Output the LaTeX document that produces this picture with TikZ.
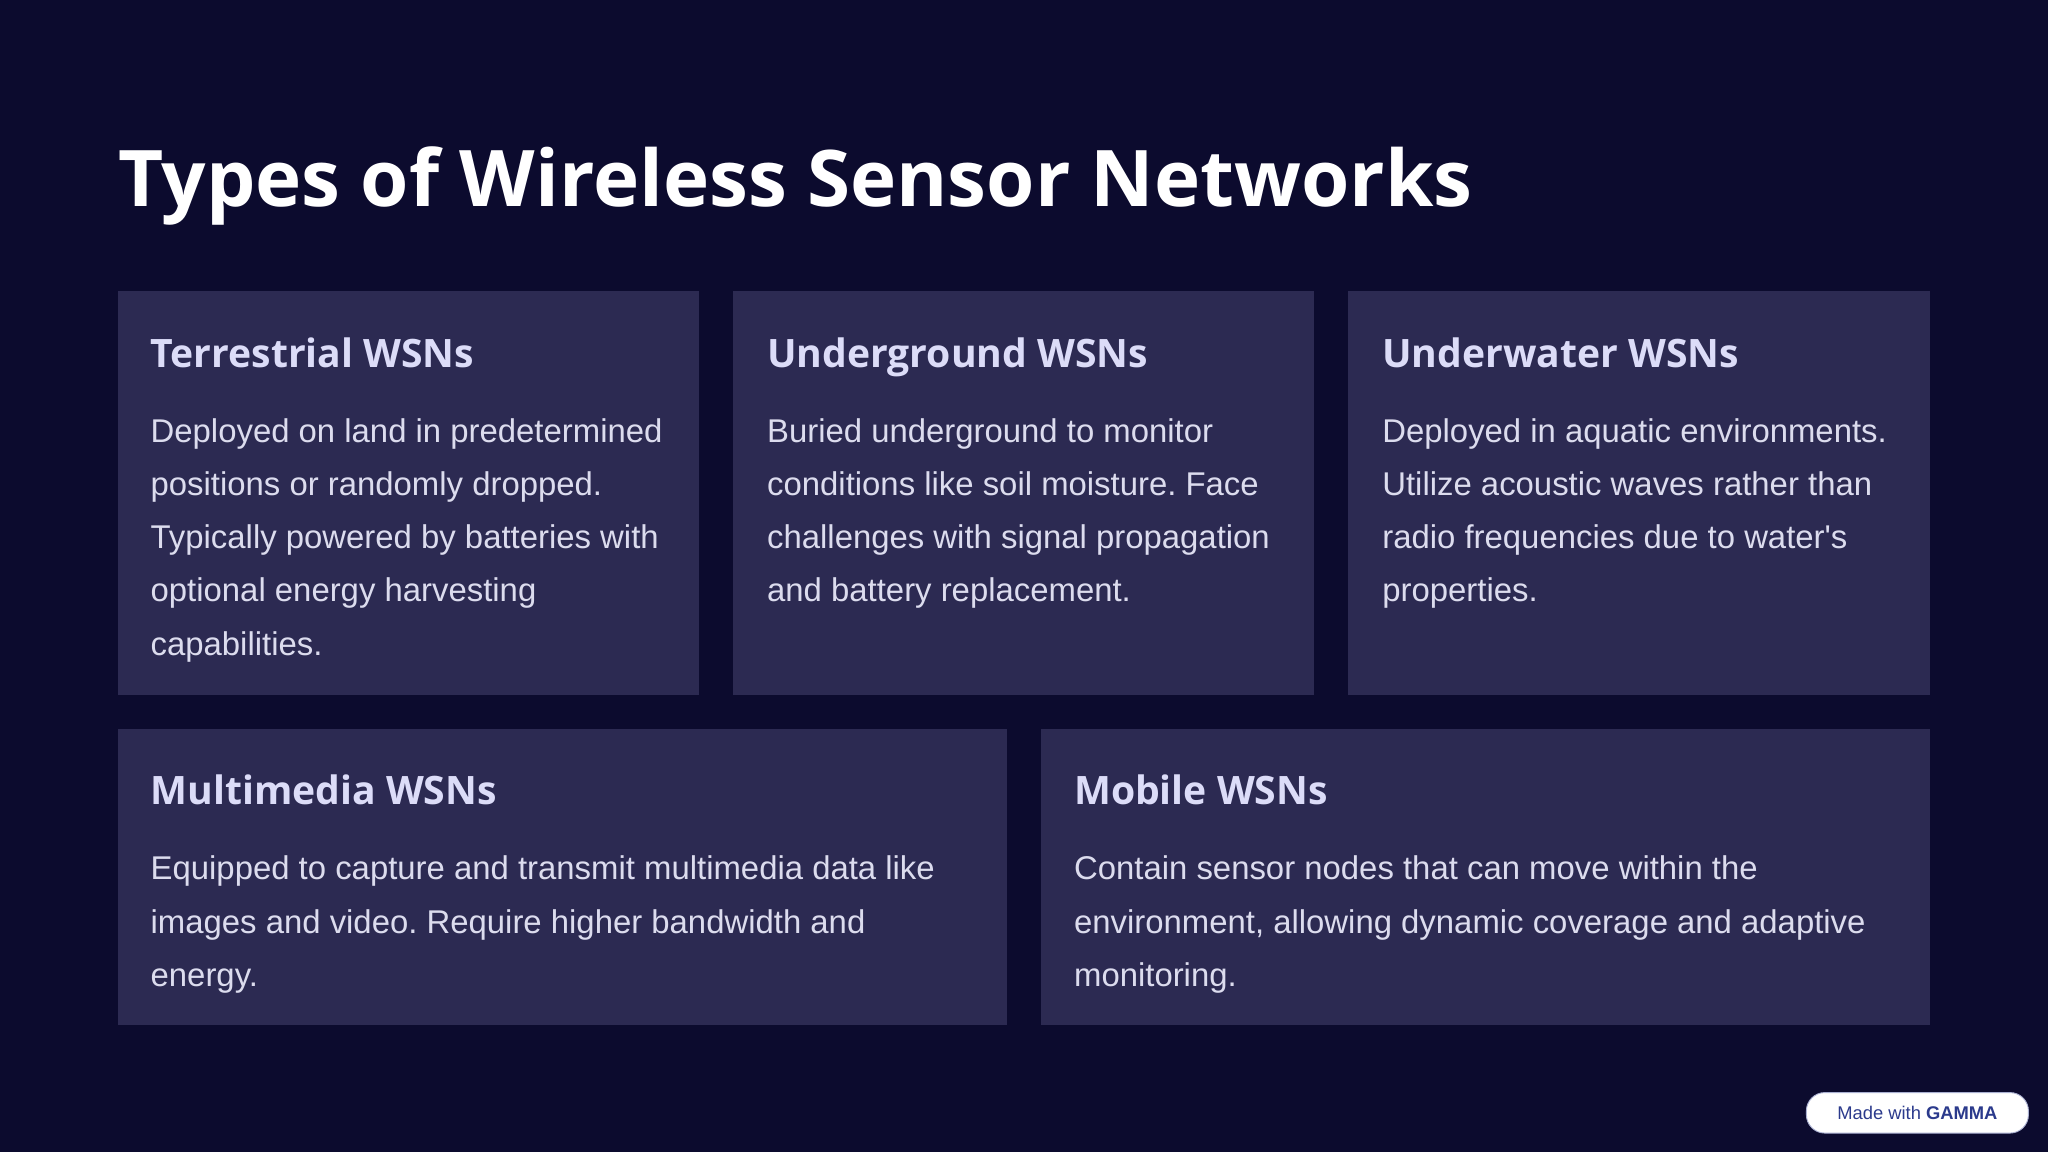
\documentclass[tikz,border=0pt]{standalone}
\usepackage{fontspec}
\setmainfont{Liberation Sans}
\newfontfamily\headf{Open Sans}
\frenchspacing
\definecolor{bg}{HTML}{0C0B2E}
\definecolor{card}{HTML}{2C2A52}
\definecolor{headc}{HTML}{DCDCF8}
\definecolor{bodyc}{HTML}{DCDCEE}
\definecolor{gam}{HTML}{2B3A8C}
\begin{document}
\begin{tikzpicture}[x=0.02cm,y=-0.02cm,
  cardbox/.style={fill=card,draw=none},
  headtxt/.style={anchor=base west,inner sep=0,text=headc,font=\headf\bfseries\fontsize{17.05}{20}\selectfont},
  bodytxt/.style={anchor=north west,inner sep=0,text=bodyc,align=left,font=\frenchspacing\fontsize{14.33}{23.2}\selectfont}]
\fill[bg] (0,0) rectangle (1568,882);
\node[anchor=base west,inner sep=0,text=white,font=\headf\bfseries\fontsize{34.05}{40}\selectfont] (title) at (90,158) {Types of Wireless Sensor Networks};
% cards
\fill[cardbox] (90,223) rectangle (535,532);
\fill[cardbox] (561,223) rectangle (1006,532);
\fill[cardbox] (1032,223) rectangle (1478,532);
\fill[cardbox] (90,558) rectangle (771,785);
\fill[cardbox] (797,558) rectangle (1478,785);
\node[headtxt] (h1) at (115,281) {Terrestrial WSNs};
\node[headtxt] (h2) at (587,281) {Underground WSNs};
\node[headtxt] (h3) at (1058,281) {Underwater WSNs};
\node[headtxt] (h4) at (115,616) {Multimedia WSNs};
\node[headtxt] (h5) at (822,616) {Mobile WSNs};
\node[bodytxt] (b1) at (115,320) {Deployed on land in predetermined\\positions or randomly dropped.\\Typically powered by batteries with\\optional energy harvesting\\capabilities.};
\node[bodytxt] (b2) at (587,320) {Buried underground to monitor\\conditions like soil moisture. Face\\challenges with signal propagation\\and battery replacement.};
\node[bodytxt] (b3) at (1058,320) {Deployed in aquatic environments.\\Utilize acoustic waves rather than\\radio frequencies due to water\textquotesingle s\\properties.};
\node[bodytxt] (b4) at (115,655) {Equipped to capture and transmit multimedia data like\\images and video. Require higher bandwidth and\\energy.};
\node[bodytxt] (b5) at (822,655) {Contain sensor nodes that can move within the\\environment, allowing dynamic coverage and adaptive\\monitoring.};
\node[fill=white,draw=gam!40,rounded corners=8pt,minimum width=170*0.02cm,minimum height=31*0.02cm,inner sep=0,text=gam,font=\fontsize{8}{9}\selectfont] (badge) at (1468,852) {Made with \textbf{GAMMA}};
\end{tikzpicture}
\end{document}
